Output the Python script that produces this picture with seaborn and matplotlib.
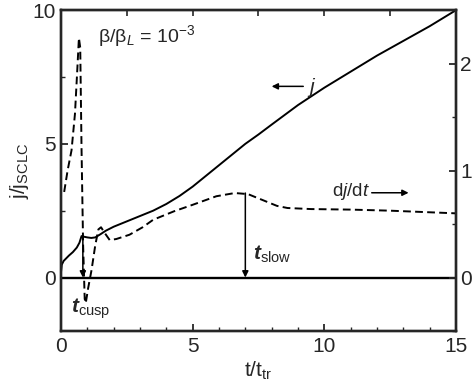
import matplotlib
matplotlib.use("Agg")
import matplotlib.pyplot as plt
import seaborn as sns
from matplotlib.ticker import MultipleLocator

# j / j_SCLC (left axis)
t_j = [0.0, 0.03, 0.1, 0.2, 0.3, 0.45, 0.6, 0.7, 0.78, 0.85, 1.0, 1.15, 1.3, 1.5, 1.7,
       2.0, 2.5, 3.0, 3.5, 4.0, 4.5, 5.0, 5.5, 6.0, 6.5, 7.0, 7.5, 8.0, 9.0, 10.0,
       11.0, 12.0, 13.0, 14.0, 15.0]
j_vals = [0.2, 0.48, 0.62, 0.72, 0.82, 0.95, 1.12, 1.3, 1.55, 1.53, 1.5, 1.48, 1.5, 1.62, 1.75,
          1.9, 2.1, 2.3, 2.5, 2.75, 3.05, 3.4, 3.8, 4.2, 4.6, 5.0, 5.35, 5.72, 6.45, 7.1,
          7.7, 8.3, 8.85, 9.4, 10.0]

# dj/dt (right axis)
t_d = [0.12, 0.25, 0.4, 0.53, 0.62, 0.68, 0.73, 0.78, 0.84, 0.9, 0.94, 1.03, 1.16, 1.3,
       1.42, 1.52, 1.65, 1.85, 2.1, 2.6, 3.1, 3.5, 4.3, 5.0, 5.9, 6.6, 7.1, 7.6, 8.2,
       8.6, 9.5, 11.0, 12.5, 14.0, 15.0]
djdt_vals = [0.8, 1.0, 1.19, 1.53, 1.95, 2.24, 2.15, 1.2, 0.3, -0.2, -0.24, -0.1, 0.07, 0.3,
             0.45, 0.47, 0.42, 0.35, 0.36, 0.4, 0.47, 0.54, 0.62, 0.68, 0.76, 0.79, 0.78, 0.73, 0.67,
             0.65, 0.64, 0.635, 0.625, 0.61, 0.6]

T_CUSP = 0.83
J_CUSP = 1.55
T_SLOW = 7.0
D_SLOW = 0.79

sns.set_style("ticks")
plt.rcParams["font.family"] = ["Liberation Sans", "DejaVu Sans"]
plt.rcParams["mathtext.fontset"] = "custom"
plt.rcParams["mathtext.rm"] = "Liberation Sans"
plt.rcParams["mathtext.it"] = "Liberation Sans:italic"
plt.rcParams["mathtext.bf"] = "Liberation Sans:italic:bold"

fig = plt.figure(figsize=(4.74, 3.91), dpi=100)
ax = fig.add_axes([0.1287, 0.1535, 0.962 - 0.1287, 0.974 - 0.1535])
ax2 = ax.twinx()

sns.lineplot(x=t_j, y=j_vals, ax=ax, color="black", linewidth=1.4, estimator=None)
sns.lineplot(x=t_d, y=djdt_vals, ax=ax2, color="black", linewidth=1.4, estimator=None,
             linestyle=(0, (4, 2.2)))

ax.axhline(0, color="black", linewidth=1.7)

ax.set_xlim(0, 15)
ax.set_ylim(-2, 10)
ax2.set_ylim(-0.5, 2.5)

ax.xaxis.set_major_locator(MultipleLocator(5))
ax.xaxis.set_minor_locator(MultipleLocator(1))
ax.yaxis.set_major_locator(MultipleLocator(5))
ax.yaxis.set_minor_locator(MultipleLocator(2.5))
ax2.yaxis.set_major_locator(MultipleLocator(1))
ax2.yaxis.set_minor_locator(MultipleLocator(0.5))

for a in (ax, ax2):
    a.tick_params(which="major", direction="in", length=5, width=1.3, labelsize=15, pad=4)
    a.tick_params(which="minor", direction="in", length=3, width=1.0)
    for s in a.spines.values():
        s.set_linewidth(1.7)
ax.tick_params(axis="y", which="both", right=False)
ax.tick_params(axis="x", which="both", top=False)
ax2.tick_params(axis="y", pad=3)

top = ax.secondary_xaxis("top")
top.xaxis.set_major_locator(MultipleLocator(2.5))
top.tick_params(direction="in", length=4, width=1.2, labeltop=False)

ax.set_xlabel(r"t/t$_{\rm tr}$", fontsize=15, labelpad=3)
ax.set_ylabel(r"j/j$_{\rm SCLC}$", fontsize=15, labelpad=1)
ax2.set_ylabel("")

# arrows
arrow = dict(arrowstyle="-|>", color="black", lw=1.1, mutation_scale=9, shrinkA=0, shrinkB=0)
ax.annotate("", xy=(T_CUSP, 0), xytext=(T_CUSP, J_CUSP), arrowprops=arrow)
ax2.annotate("", xy=(T_SLOW, 0), xytext=(T_SLOW, D_SLOW), arrowprops=arrow)
ax.annotate("", xy=(8.0, 7.15), xytext=(9.2, 7.15), arrowprops=arrow)
ax.annotate("", xy=(13.2, 3.17), xytext=(11.8, 3.17), arrowprops=arrow)

ax.text(1.4, 9.05, r"β/β$_{L}$ = 10$^{-3}$", fontsize=14, va="center", ha="left")
ax.text(9.35, 7.1, r"$j$", fontsize=15, va="center", ha="left")
ax.text(10.3, 3.2, r"d$j$/d$t$", fontsize=13.5, va="center", ha="left")
ax.text(0.38, -1.15, r"$\mathbf{t}_{\rm cusp}$", fontsize=15, va="center", ha="left")
ax.text(7.3, 0.85, r"$\mathbf{t}_{\rm slow}$", fontsize=15, va="center", ha="left")

fig.savefig("out.png", dpi=100)
